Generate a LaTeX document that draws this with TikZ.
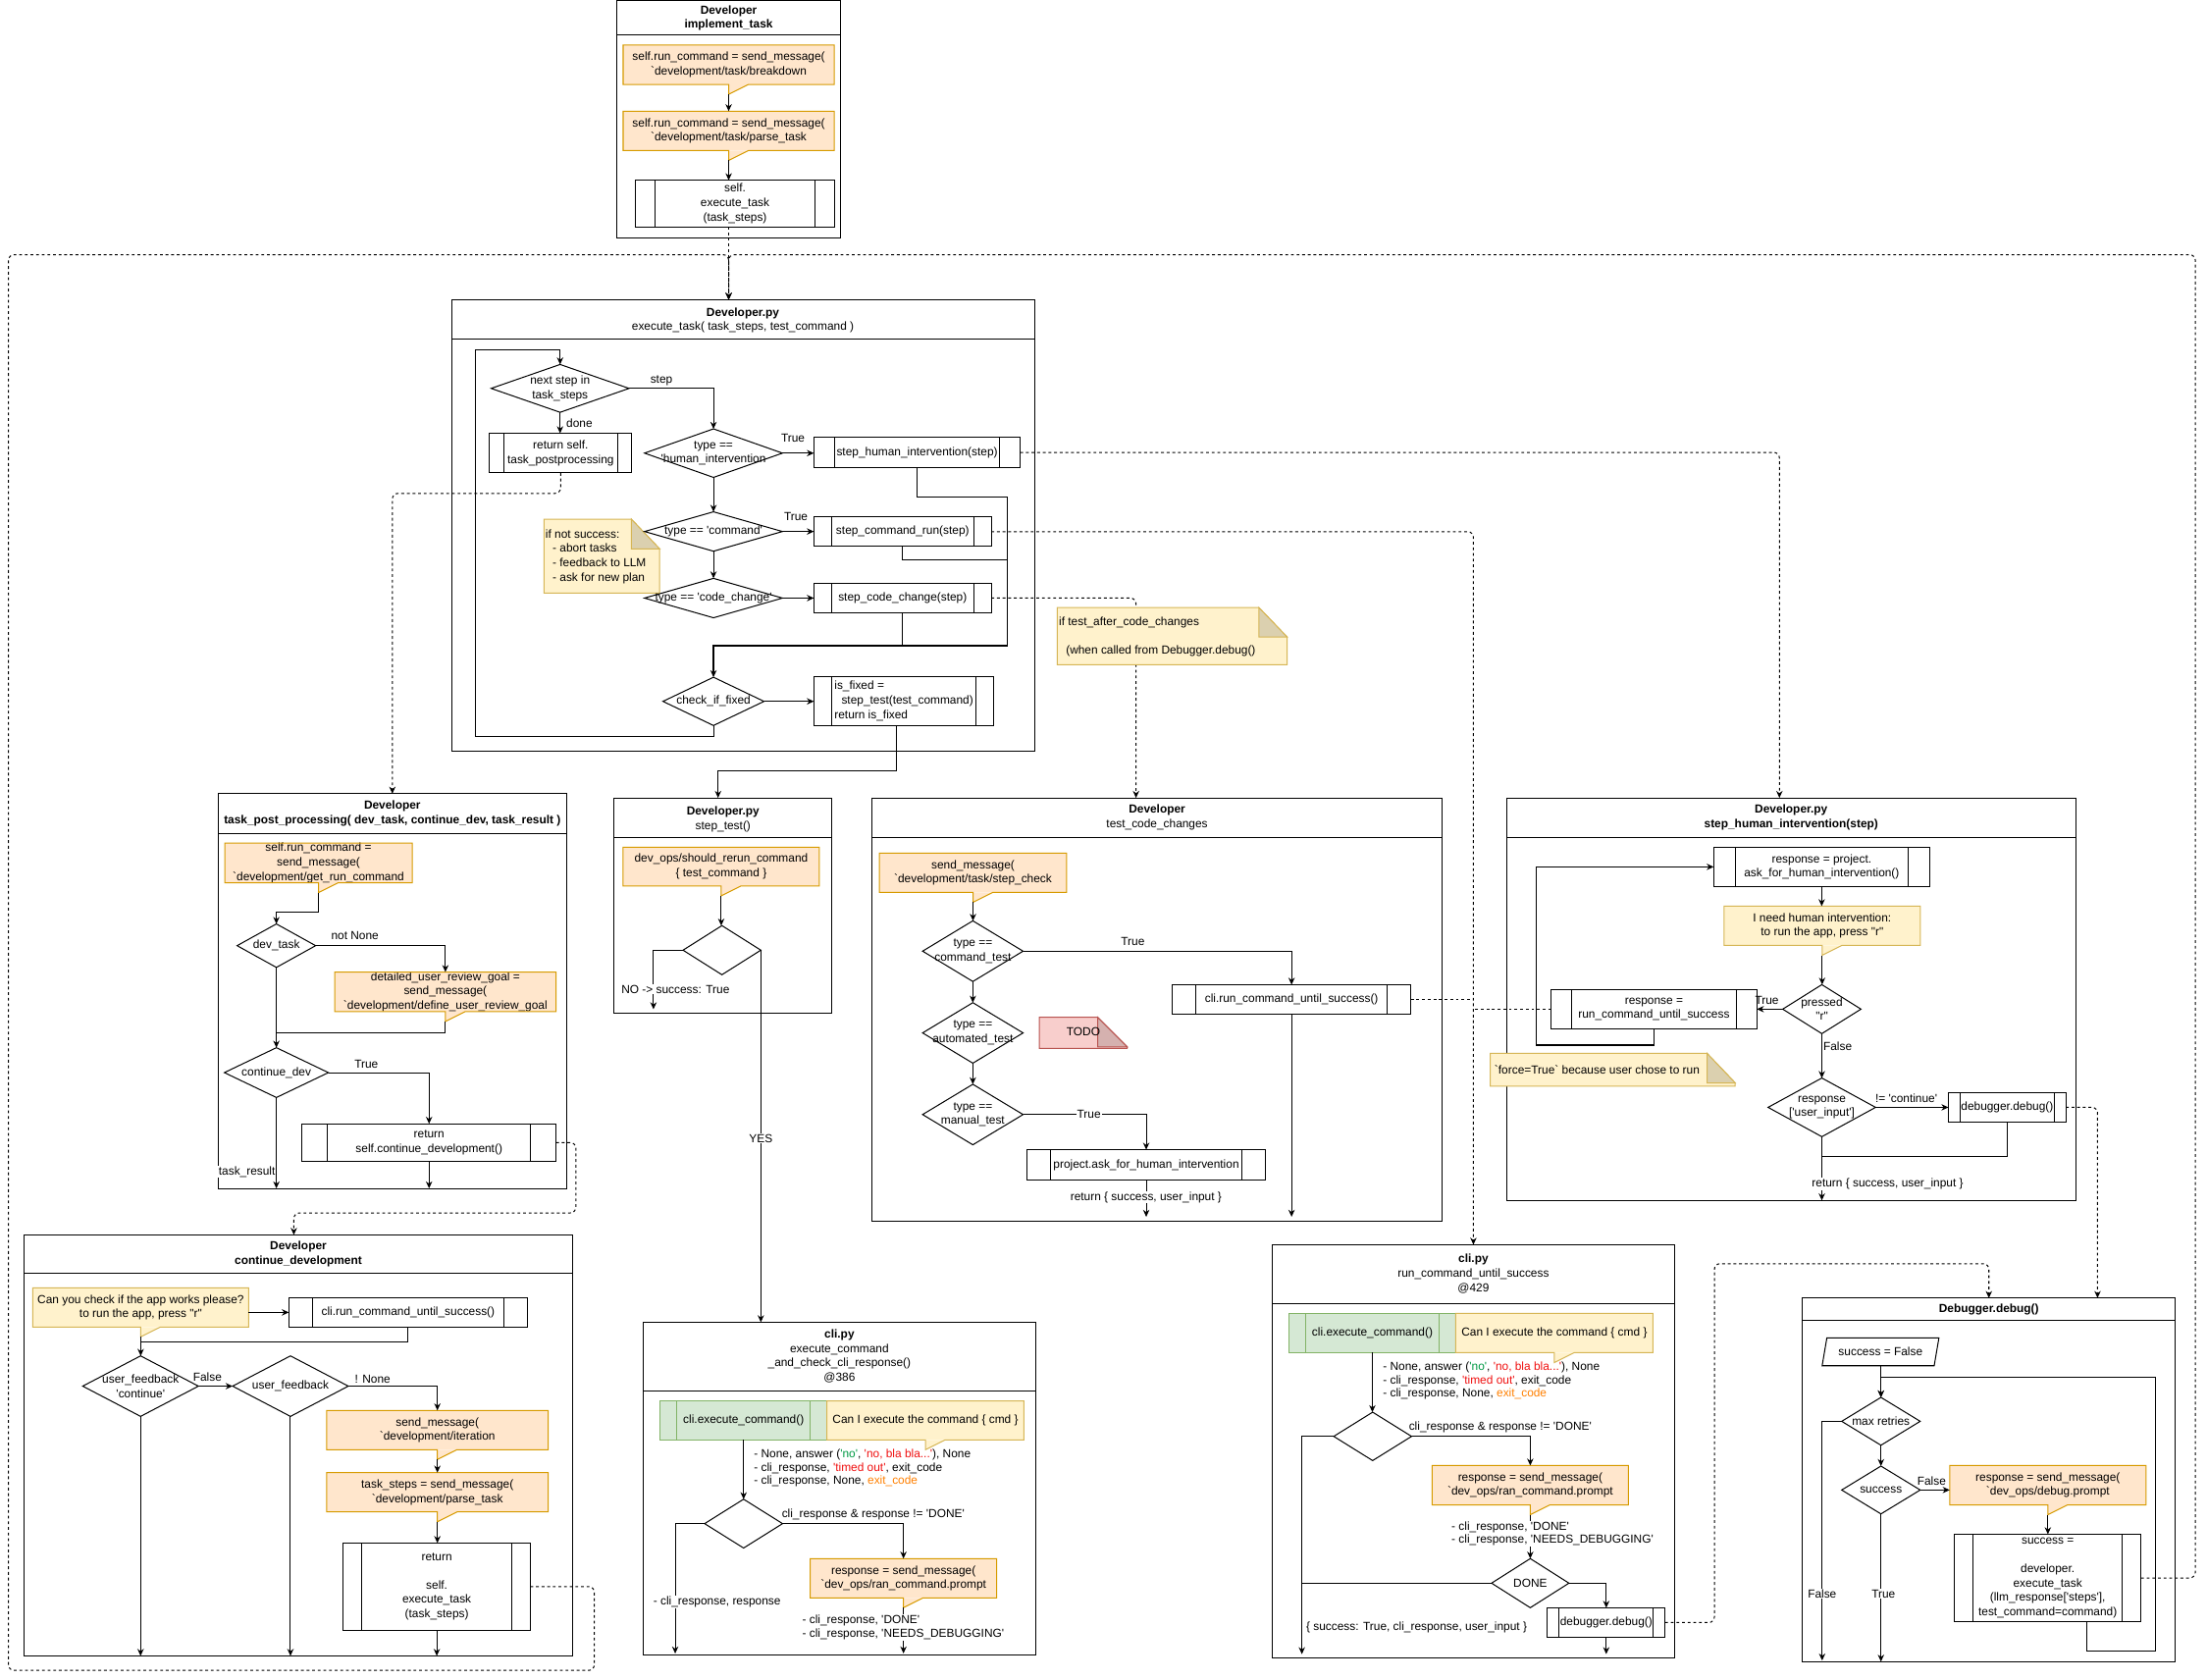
\documentclass[tikz,border=0pt]{standalone}
\usepackage{fontspec}
\setmainfont{Liberation Sans}
\newfontfamily\dfont{Liberation Sans}
\usepackage{xcolor}
\usepackage{tikz}
\usetikzlibrary{positioning}
\usetikzlibrary{arrows.meta, shapes.geometric, calc}

\definecolor{orF}{HTML}{FFE6CC}
\definecolor{orD}{HTML}{D79B00}
\definecolor{yeF}{HTML}{FFF2CC}
\definecolor{yeD}{HTML}{D6B656}
\definecolor{grF}{HTML}{D5E8D4}
\definecolor{grD}{HTML}{82B366}
\definecolor{reF}{HTML}{F8CECC}
\definecolor{reD}{HTML}{B85450}
\definecolor{txGreen}{HTML}{009944}
\definecolor{txRed}{HTML}{F01010}
\definecolor{txOrange}{HTML}{FF8000}
\colorlet{yeFold}{yeF!86!black}
\colorlet{reFold}{reF!86!black}

\newcommand{\sq}{\symbol{39}}
\newcommand{\bq}{\symbol{96}}
\newcommand{\fs}{\dfont\fontsize{8.3}{10.2}\selectfont}
\newcommand{\fsl}{\dfont\fontsize{8.3}{9.3}\selectfont}

\tikzset{
  txt/.style={font=\fs, inner sep=0pt, outer sep=0pt, align=center},
  dims/.style 2 args={minimum width={(#1)*1pt}, minimum height={(#2)*1pt}},
  panel/.style={draw, inner sep=0pt, outer sep=0pt},
  box/.style={txt, draw, fill=white},
  sub/.style={box, path picture={
      \draw[#1] ($(path picture bounding box.south west)!0.1!(path picture bounding box.south east)$)
          -- ($(path picture bounding box.north west)!0.1!(path picture bounding box.north east)$)
          ($(path picture bounding box.south west)!0.9!(path picture bounding box.south east)$)
          -- ($(path picture bounding box.north west)!0.9!(path picture bounding box.north east)$);}},
  sub/.default=black,
  dia/.style={txt, draw, fill=white, shape=diamond},
  lbl/.style={txt, fill=white, inner sep=0.6pt},
  free/.style={txt, align=left, font=\fsl},
  flow/.style={-{Stealth[length=5pt,width=4.5pt]}},
  link/.style={dash pattern=on 2pt off 2pt, rounded corners=4pt, -{Stealth[length=5pt,width=4.5pt]}},
  orangebox/.style={fill=orF, draw=orD},
  yellowbox/.style={fill=yeF, draw=yeD},
  greenbox/.style={fill=grF, draw=grD},
}

% speech bubble with its tail under the middle
\newcommand{\callout}[5][orangebox]{%
  \node[txt, #1, draw=none, #3] (#2) at #4 {#5};
  \fill[#1, draw=none] (#2.south) -- ++(0,7) -- ++(14,-7) -- cycle;
  \draw[#1, fill=none] (#2.south) -- (#2.south west) -- (#2.north west) -- (#2.north east)
    -- (#2.south east) -- ([xshift=14pt]#2.south) -- ([yshift=-7pt]#2.south) coordinate (#2-tip) -- cycle;
}
\newcommand{\panel}[6]{%
  \node[panel, dims={#4-#2}{#5-#3}] (#1) at ({(#2+#4)/2},{(#3+#5)/2}) {};
  \draw (#2,#6) -- (#4,#6);
}

\begin{document}
\begin{tikzpicture}[x=1pt, y=-1pt, line width=0.7pt]
        \useasboundingbox (0,0) rectangle (1568.3,1193.2);
        \fill[white] (0,0) rectangle (1568.3,1193.2);

        % implement_task
        \panel{pA}{438.2}{0.4}{597.4}{168.8}{25.1}
        \node[txt] (tA) at (517.8,12.9) {\textbf{Developer}\\\textbf{implement\_task}};
        \callout{cA1}{dims={150}{28}}{(517.8,46)}{self.run\_command = send\_message(\\\bq development/task/breakdown}
        \callout{cA2}{dims={150}{28}}{(517.8,93)}{self.run\_command = send\_message(\\\bq development/task/parse\_task}
        \node[sub, dims={142}{33}] (sA) at (522.3,144.6) {self.\\execute\_task\\(task\_steps)};
        \draw[flow] (cA1-tip) -- (cA1-tip |- cA2.north);
        \draw[flow] (cA2-tip) -- (cA2-tip |- sA.north);

        % execute_task
        \panel{pB}{320.8}{213}{735}{534}{241}
        \node[txt] (tB) at (527.9,227.5) {\textbf{Developer.py}\\execute\_task( task\_steps, test\_command )};
        \filldraw[yellowbox] (386.5,369) -- (448.7,369) -- (468.7,390) -- (468.7,421.4) -- (386.5,421.4) -- cycle;
        \filldraw[yellowbox, fill=yeFold] (448.7,369) -- (448.7,390) -- (468.7,390) -- cycle;
        \node[txt, align=left, anchor=west] (nFail) at (387.7,395.5) {if not success:\\\hspace*{5pt}- abort tasks\\\hspace*{5pt}- feedback to LLM\\\hspace*{5pt}- ask for new plan};
        \node[dia, dims={98}{34}, label={[txt]center:{next step in\\task\_steps}}] (dNext) at (398,276) {};
        \node[sub, dims={101.3}{28.2}] (rPost) at (398.4,322) {return self.\\task\_postprocessing};
        \node[dia, dims={98}{34.5}, label={[txt]center:{type ==\\\sq human\_intervention}}] (dHuman) at (507,322) {};
        \node[sub, dims={146.7}{21}] (sHuman) at (651.7,321.5) {step\_human\_intervention(step)};
        \node[dia, dims={98}{28}, label={[txt]center:{type == \sq command\sq}}] (dCmd) at (507,377.7) {};
        \node[sub, dims={126.1}{21}] (sCmd) at (641.4,377.8) {step\_command\_run(step)};
        \node[dia, dims={98}{28}, label={[txt]center:{type == \sq code\_change\sq}}] (dCode) at (507,425) {};
        \node[sub, dims={126.1}{21}] (sCode) at (641.4,425) {step\_code\_change(step)};
        \node[dia, dims={71.8}{34.3}, label={[txt]center:{check\_if\_fixed}}] (dFix) at (507,498.4) {};
        \node[sub, dims={127.9}{34.8}, align=left] (sFix) at (642.3,498.1) {is\_fixed =\\\hspace*{5pt}step\_test(test\_command)\\return is\_fixed};
        \node[txt] (lStep) at (470,270.6) {step};
        \node[txt] (lDone) at (411.7,300.4) {done};
        \node[txt] (lTrue1) at (563.5,311.5) {True};
        \node[txt] (lTrue2) at (565.6,367.3) {True};
        \draw[flow] (dNext.south) -- (dNext.south |- rPost.north);
        \draw[flow] (dNext.east) -| (dHuman.north);
        \draw[flow] (dHuman.east) -- (dHuman.east -| sHuman.west);
        \draw[flow] (dHuman.south) -- (dCmd.north);
        \draw[flow] (dCmd.east) -- (dCmd.east -| sCmd.west);
        \draw[flow] (dCmd.south) -- (dCode.north);
        \draw[flow] (dCode.east) -- (dCode.east -| sCode.west);
        \coordinate (mJoin) at (716,458.6);
        \draw (sHuman.south) -- ++(0,21) -| (mJoin);
        \draw (sCmd.south) -- ++(0,9.3) -| (mJoin);
        \draw (sCode.south) -- (sCode.south |- mJoin);
        \draw[flow, line width=1.4pt] (mJoin) -| (dFix.north);
        \draw[flow] (dFix.east) -- (dFix.east -| sFix.west);
        \coordinate (loopB) at (337.7,248.7);
        \draw[flow] (dFix.south) -- ++(0,7.5) -| (loopB) -| (dNext.north);

        % task_post_processing
        \panel{pC}{155}{564}{402.6}{844.5}{592.3}
        \node[txt] (tC) at (278.8,578) {\textbf{Developer}\\\textbf{task\_post\_processing( dev\_task, continue\_dev, task\_result )}};
        \callout{cC1}{dims={133.2}{27.8}}{(226.3,613.2)}{self.run\_command =\\send\_message(\\\bq development/get\_run\_command}
        \node[dia, dims={55.8}{30.9}, label={[txt]center:{dev\_task}}] (dDev) at (196.4,672) {};
        \callout{cC2}{dims={157.4}{27.9}}{(316.5,704.8)}{detailed\_user\_review\_goal =\\send\_message(\\\bq development/define\_user\_review\_goal}
        \node[dia, dims={73.9}{35.4}, label={[txt]center:{continue\_dev}}] (dCont) at (196.4,762.2) {};
        \node[sub, dims={180.6}{26.7}] (rCont) at (304.9,811.9) {return\\self.continue\_development()};
        \node[txt] (lNotNone) at (252.2,664.8) {not None};
        \node[txt] (lTrue3) at (260.3,756.2) {True};
        \draw[flow] (cC1-tip) -- ++(0,14) -| (dDev.north);
        \draw[flow] (dDev.east) -| (cC2.north);
        \draw (cC2-tip) -- ++(0,8) -| (dCont.north);
        \draw[flow] (dDev.south) -- (dCont.north);
        \draw[flow] (dCont.east) -| (rCont.north);
        \draw[flow] (rCont.south) -- (rCont.south |- pC.south);
        \draw[flow] (dCont.south) -- (dCont.south |- pC.south);
        \node[lbl] (lResult) at (175.5,832.6) {task\_result};

        % step_test
        \panel{pD}{436.5}{567}{591}{720.1}{595}
        \node[txt] (tD) at (513.8,582) {\textbf{Developer.py}\\step\_test()};
        \callout{cD}{dims={139.5}{27.5}}{(512.5,615.8)}{dev\_ops/should\_rerun\_command\\\{ test\_command \}}
        \node[dia, dims={55.3}{34.9}] (dTest) at (513,675.2) {};
        \draw[flow] (cD-tip) -- (cD-tip |- dTest.north);
        \draw[flow] (dTest.west) -- ++(-21,0) -- ++(0,42);
        \node[lbl] (lNo) at (480,703.2) {NO -> success: True};

        % test_code_changes
        \panel{pE}{619.5}{567}{1025}{867.7}{595}
        \node[txt] (tE) at (822.2,581) {\textbf{Developer}\\test\_code\_changes};
        \callout{cE}{dims={132.9}{27.9}}{(691.4,620.2)}{send\_message(\\\bq development/task/step\_check}
        \node[dia, dims={71.4}{43.1}, label={[txt]center:{type ==\\command\_test}}] (dCT) at (691.3,675.9) {};
        \node[sub, dims={169.5}{20.9}] (sRun) at (917.8,710.2) {cli.run\_command\_until\_success()};
        \node[dia, dims={71.4}{43}, label={[txt]center:{type ==\\automated\_test}}] (dAT) at (691.3,734) {};
        \node[dia, dims={71.4}{43}, label={[txt]center:{type ==\\manual\_test}}] (dMT) at (691.3,792) {};
        \node[sub, dims={169.4}{21.4}] (sAsk) at (814.5,827.7) {project.ask\_for\_human\_intervention};
        \filldraw[fill=reF, draw=reD] (738.6,722.9) -- (780,722.9) -- (801,743.9) -- (801,745) -- (738.6,745) -- cycle;
        \filldraw[fill=reFold, draw=reD] (780,722.9) -- (780,743.9) -- (801,743.9) -- cycle;
        \node[txt] (nTodo) at (769.8,733.4) {TODO};
        \node[txt] (lTrue4) at (805,668.8) {True};
        \draw[flow] (cE-tip) -- (cE-tip |- dCT.north);
        \draw[flow] (dCT.east) -| (sRun.north);
        \draw[flow] (sRun.south) -- ++(0,144);
        \draw[flow] (dCT.south) -- (dAT.north);
        \draw[flow] (dAT.south) -- (dMT.north);
        \draw[flow] (dMT.east) -| (sAsk.north);
        \draw[flow] (sAsk.south) -- ++(0,26.3);
        \node[lbl] (lTrue5) at (773.8,792) {True};
        \node[lbl] (lRet1) at (814.4,850.8) {return \{ success, user\_input \}};

        % step_human_intervention
        \panel{pF}{1070.7}{567}{1475}{853}{595}
        \node[txt] (tF) at (1272.8,581) {\textbf{Developer.py}\\\textbf{step\_human\_intervention(step)}};
        \node[sub, dims={153.5}{28}] (sAskH) at (1294.5,616) {response = project.\\ask\_for\_human\_intervention()};
        \callout[yellowbox]{cF}{dims={139.5}{27.9}}{(1294.8,657.9)}{I need human intervention:\\to run the app, press "r"}
        \node[dia, dims={55.6}{34.8}, label={[txt]center:{pressed\\"r"}}] (dPress) at (1294.6,717.1) {};
        \node[sub, dims={146.2}{27.9}] (sRunH) at (1175.3,717.1) {response =\\run\_command\_until\_success};
        \node[dia, dims={76.4}{41.7}, label={[txt]center:{response\\{[}\sq user\_input\sq]}}] (dResp) at (1294.6,786.9) {};
        \node[sub, dims={83.5}{20.9}] (sDbgF) at (1426.3,786.9) {debugger.debug()};
        \node[txt] (lTrue6) at (1255.6,710.6) {True};
        \node[txt] (lFalse1) at (1305.8,743.8) {False};
        \node[txt] (lCont) at (1354.6,780.6) {!= \sq continue\sq};
        \draw[flow] (sAskH.south) -- (sAskH.south |- cF.north);
        \draw[flow] (cF-tip) -- (cF-tip |- dPress.north);
        \draw[flow] (dPress.west) -- (sRunH.east);
        \coordinate (loopF) at (1091.5,616);
        \draw[flow] (sRunH.south) -- ++(0,11.6) -| (loopF) -- (sAskH.west);
        \draw[flow] (dPress.south) -- (dResp.north);
        \draw[flow] (dResp.east) -- (sDbgF.west);
        \coordinate (mResp) at (1294.6,821.7);
        \draw (sDbgF.south) |- (mResp);
        \draw[flow] (dResp.south) -- (dResp.south |- pF.south);
        \node[lbl, anchor=west] (lRet2) at (1287,841.5) {return \{ success, user\_input \}};

        % continue_development
        \panel{pG}{17.2}{877.5}{406.8}{1176.7}{904.9}
        \node[txt] (tG) at (212,891.3) {\textbf{Developer}\\\textbf{continue\_development}};
        \callout[yellowbox]{cG}{dims={153.4}{27.8}}{(100,929.1)}{Can you check if the app works please?\\to run the app, press "r"}
        \node[sub, dims={169.5}{20.9}] (sRunG) at (290,932.6) {cli.run\_command\_until\_success()};
        \node[dia, dims={82.2}{43}, label={[txt]center:{user\_feedback\\\sq continue\sq}}] (dUC) at (99.9,985) {};
        \node[dia, dims={82.2}{43}, label={[txt]center:{user\_feedback}}] (dUF) at (206.4,985) {};
        \callout{cG2}{dims={157.5}{27.9}}{(310.8,1016.2)}{send\_message(\\\bq development/iteration}
        \callout{cG3}{dims={157.5}{27.9}}{(310.8,1060.4)}{task\_steps = send\_message(\\\bq development/parse\_task}
        \node[sub, dims={132.9}{61.8}] (rExec) at (310.4,1127.4) {return\\\mbox{}\\self.\\execute\_task\\(task\_steps)};
        \node[txt] (lFalse2) at (147.4,978.6) {False};
        \node[txt] (lNone) at (264.8,979.8) {! None};
        \draw[flow] (cG.east |- sRunG.west) -- (sRunG.west);
        \draw (sRunG.south) -- ++(0,10.7) -| (dUC.north);
        \draw[flow] (cG-tip) -- (cG-tip |- dUC.north);
        \draw[flow] (dUC.east) -- (dUF.west);
        \draw[flow] (dUF.east) -| (cG2.north);
        \draw[flow] (cG2-tip) -- (cG2-tip |- cG3.north);
        \draw[flow] (cG3-tip) -- (cG3-tip |- rExec.north);
        \draw[flow] (rExec.south) -- (rExec.south |- pG.south);
        \draw[flow] (dUC.south) -- (dUC.south |- pG.south);
        \draw[flow] (dUF.south) -- (dUF.south |- pG.south);

        % cli.py execute_command_and_check_cli_response
        \panel{pH}{456.8}{939.6}{736.2}{1176.2}{988.4}
        \node[txt] (tH) at (596.5,963.7) {\textbf{cli.py}\\execute\_command\\\_and\_check\_cli\_response()\\@386};
        \node[sub=grD, greenbox, dims={118.5}{27.6}] (gExecH) at (528.4,1009.4) {cli.execute\_command()};
        \callout[yellowbox]{cH1}{dims={140}{27.6}}{(657.6,1009.4)}{Can I execute the command \{ cmd \}}
        \node[free, anchor=west] (tListH) at (535.8,1043.3) {- None, answer (\textcolor{txGreen}{\sq no\sq}, \textcolor{txRed}{\sq no, bla bla...\sq}), None\\- cli\_response, \textcolor{txRed}{\sq timed out\sq}, exit\_code\\- cli\_response, None, \textcolor{txOrange}{exit\_code}};
        \node[dia, dims={55.4}{34.7}] (dH) at (528.4,1082.7) {};
        \node[txt, anchor=west] (lCondH) at (555.6,1076.2) {cli\_response \& response != \sq DONE\sq};
        \callout{cH2}{dims={132.5}{27.9}}{(642,1121.5)}{response = send\_message(\\\bq dev\_ops/ran\_command.prompt}
        \draw[flow] (gExecH.south) -- (gExecH.south |- dH.north);
        \draw[flow] (dH.east) -| (cH2.north);
        \draw[flow] (cH2-tip) -- ++(0,32.5);
        \draw[flow] (dH.west) -- ++(-20.9,0) -- ++(0,92.3);
        \node[free, anchor=west, fill=white, inner sep=0.6pt] (lDoneH) at (569.5,1156.5) {- cli\_response, \sq DONE\sq\\- cli\_response, \sq NEEDS\_DEBUGGING\sq};
        \node[lbl, anchor=west] (lRespH) at (463.7,1138.3) {- cli\_response, response};

        % cli.py run_command_until_success
        \panel{pI}{904.3}{884.5}{1189.7}{1178}{926.3}
        \node[txt] (tI) at (1047,905.1) {\textbf{cli.py}\\run\_command\_until\_success\\@429};
        \node[sub=grD, greenbox, dims={118.5}{27.9}] (gExecI) at (975.2,947.3) {cli.execute\_command()};
        \callout[yellowbox]{cI1}{dims={140.2}{27.9}}{(1104.5,947.3)}{Can I execute the command \{ cmd \}}
        \node[free, anchor=west] (tListI) at (982.8,981.2) {- None, answer (\textcolor{txGreen}{\sq no\sq}, \textcolor{txRed}{\sq no, bla bla...\sq}), None\\- cli\_response, \textcolor{txRed}{\sq timed out\sq}, exit\_code\\- cli\_response, None, \textcolor{txOrange}{exit\_code}};
        \node[dia, dims={55.3}{34.4}] (dI) at (975.4,1020.7) {};
        \node[txt, anchor=west] (lCondI) at (1001.2,1013.9) {cli\_response \& response != \sq DONE\sq};
        \callout{cI2}{dims={139.4}{27.9}}{(1087.4,1055.4)}{response = send\_message(\\\bq dev\_ops/ran\_command.prompt}
        \node[dia, dims={55}{34.9}, label={[txt]center:{DONE}}] (dDone) at (1087.4,1125) {};
        \node[sub, dims={83.7}{20.9}] (sDbgI) at (1141.4,1153) {debugger.debug()};
        \node[txt, anchor=west] (lSuccI) at (928.2,1156.4) {\{ success: True, cli\_response, user\_input \}};
        \coordinate (outI) at (925.1,1175.5);
        \draw[flow] (gExecI.south) -- (gExecI.south |- dI.north);
        \draw[flow] (dI.east) -| (cI2.north);
        \draw[flow] (cI2-tip) -- (cI2-tip |- dDone.north);
        \draw[flow] (dI.west) -| (outI);
        \draw (dDone.west) -- (dDone.west -| outI);
        \draw[flow] (dDone.east) -| (sDbgI.north);
        \draw[flow] (sDbgI.south) -- ++(0,12);
        \node[free, anchor=west, fill=white, inner sep=0.6pt] (lDoneI) at (1030.9,1090) {- cli\_response, \sq DONE\sq\\- cli\_response, \sq NEEDS\_DEBUGGING\sq};

        % Debugger.debug()
        \panel{pJ}{1280.8}{922.4}{1545.8}{1180.8}{938}
        \node[txt] (tJ) at (1413.3,930.2) {\textbf{Debugger.debug()}};
        \node[txt, draw, fill=white, trapezium, trapezium left angle=61, trapezium right angle=119,
              trapezium stretches body=true, dims={83}{19.8}] (pSucc) at (1336.3,960.6) {success = False};
        \node[dia, dims={55.8}{34}, label={[txt]center:{max retries}}] (dMax) at (1336.6,1010) {};
        \node[dia, dims={55.8}{34}, label={[txt]center:{success}}] (dSuc) at (1336.6,1058.8) {};
        \callout{cJ}{dims={139.5}{27.9}}{(1455.2,1055.4)}{response = send\_message(\\\bq dev\_ops/debug.prompt}
        \node[sub, dims={132.7}{62.1}] (sDev) at (1455.1,1121.3) {success =\\\mbox{}\\developer.\\execute\_task\\(llm\_response[\sq steps\sq],\\test\_command=command)};
        \node[txt] (lFalse4) at (1372.6,1052.5) {False};
        \coordinate (loopJ) at (1531.4,978.6);
        \coordinate (outJ) at (1294.8,1180);
        \draw[flow] (pSucc.south -| dMax.north) -- (dMax.north);
        \draw[flow] ([xshift=27.9pt]sDev.south) -- ++(0,21.1) -| (loopJ) -| (dMax.north);
        \draw[flow] (dMax.west) -| (outJ);
        \draw[flow] (dMax.south) -- (dSuc.north);
        \draw[flow] (dSuc.south) -- (dSuc.south |- pJ.south);
        \draw[flow] (dSuc.east) -- (dSuc.east -| cJ.west);
        \draw[flow] (cJ-tip) -- (cJ-tip |- sDev.north);
        \node[lbl] (lFalse3) at (1294.8,1132.5) {False};
        \node[lbl] (lTrue7) at (1338.4,1132.5) {True};

        % calls between the blocks
        \coordinate (busTop) at (517.8,181);
        \draw[link] (busTop |- sA.south) -- (busTop |- pB.north);
        \draw[link] (rExec.east) -- (422.3,1127.4) -- (422.3,1187) -- (6,1187) -- (6,181) -- (busTop) -- (busTop |- pB.north);
        \draw[link] (sDev.east) -- (1560,1121.3) -- (1560,181) -- (busTop) -- (busTop |- pB.north);
        \draw[link] (rPost.south) -- ++(0,14.5) -| (pC.north);
        \draw[link] (sHuman.east) -| ([xshift=-8.4pt]pF.north);
        \draw[link] (sCmd.east) -| (pI.north);
        \draw[link] (sCode.east) -| ([xshift=-15pt]pE.north);
        \draw[flow] ([xshift=-5.3pt]sFix.south) -- ++(0,32) -| ([xshift=-3.5pt]pD.north);
        \draw[link, -] (sRun.east) -- (sRun.east -| pI.north);
        \draw[link, -] (sRunH.west) -- (sRunH.west -| pI.north);
        \draw[link] (rCont.east) -| ++(14,50) -| ([xshift=-3.2pt]pG.north);
        \draw[link] (sDbgF.east) -| ([xshift=77.2pt]pJ.north);
        \draw[link] (sDbgI.east) -| ++(35,-255) -| (pJ.north);
        \draw[flow] (dTest.east) -- (dTest.east |- pH.north);
        \node[lbl] (lYes) at (540.7,809) {YES};

        % notes over the links
        \filldraw[yellowbox] (751.3,431.7) -- (894.5,431.7) -- (914.7,452.7) -- (914.7,472.3) -- (751.3,472.3) -- cycle;
        \filldraw[yellowbox, fill=yeFold] (894.5,431.7) -- (894.5,452.7) -- (914.7,452.7) -- cycle;
        \node[txt, align=left, anchor=west] (nTest) at (752.5,452.7) {if test\_after\_code\_changes\\\mbox{}\\\hspace*{5pt}(when called from Debugger.debug()};
        \filldraw[yellowbox] (1059,748.5) -- (1213,748.5) -- (1233,769.5) -- (1233,771.8) -- (1059,771.8) -- cycle;
        \filldraw[yellowbox, fill=yeFold] (1213,748.5) -- (1213,769.5) -- (1233,769.5) -- cycle;
        \node[txt, anchor=west] (nForce) at (1062,760.2) {\bq force=True\bq{} because user chose to run};
    \end{tikzpicture}
\end{document}
